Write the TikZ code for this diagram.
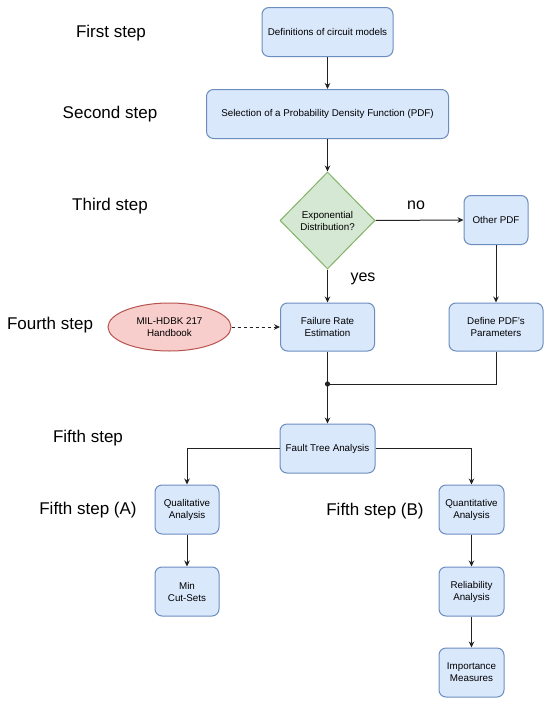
\documentclass[tikz,border=0pt]{standalone}
\usepackage{fontspec}
\setmainfont{Liberation Sans}
\usetikzlibrary{shapes.geometric,arrows.meta}
\definecolor{boxfill}{HTML}{DAE8FC}
\definecolor{boxline}{HTML}{6C8EBF}
\definecolor{grfill}{HTML}{D5E8D4}
\definecolor{grline}{HTML}{82B366}
\definecolor{rdfill}{HTML}{F8CECC}
\definecolor{rdline}{HTML}{B85450}
\definecolor{linec}{HTML}{222222}
\tikzset{
  box/.style={draw=boxline, fill=boxfill, rounded corners=7pt, line width=1pt,
    font=\fontsize{9.8}{12}\selectfont, align=center, inner sep=0pt},
  dec/.style={diamond, draw=grline, fill=grfill, line width=1pt,
    font=\fontsize{9.8}{12}\selectfont, align=center, inner sep=0pt},
  ell/.style={ellipse, draw=rdline, fill=rdfill, line width=1pt,
    font=\fontsize{9.8}{12}\selectfont, align=center, inner sep=0pt},
  lbl/.style={font=\fontsize{17}{20}\selectfont, inner sep=0pt},
  arr/.style={-{Stealth[length=6pt,width=5.5pt]}, line width=1pt, draw=linec},
  conn/.style={line width=1pt, draw=linec},
}
\begin{document}
\begin{tikzpicture}[x=1pt,y=-1pt]
\useasboundingbox (0,0) rectangle (550,704);
\fill[white] (0,0) rectangle (550,704);
% boxes
\node[box, minimum width=131pt, minimum height=49pt] (def) at (327.5,32) {Definitions of circuit models};
\node[box, minimum width=242pt, minimum height=49pt] (sel) at (327.5,114) {Selection of a Probability Density Function (PDF)};
\node[dec, minimum width=95pt, minimum height=97pt] (dia) at (327.5,220.5) {Exponential\\Distribution?};
\node[box, minimum width=64pt, minimum height=49pt] (other) at (496,220) {Other PDF};
\node[box, minimum width=94pt, minimum height=48pt] (fre) at (327.5,327) {Failure Rate\\Estimation};
\node[box, minimum width=94pt, minimum height=48pt] (dpp) at (496,327) {Define PDF's\\Parameters};
\node[ell, minimum width=123pt, minimum height=48pt] (mil) at (169.5,327) {MIL-HDBK 217\\Handbook};
\node[box, minimum width=95pt, minimum height=49pt] (fta) at (327.5,448.5) {Fault Tree Analysis};
\node[box, minimum width=64pt, minimum height=49pt] (qual) at (187,509.5) {Qualitative\\Analysis};
\node[box, minimum width=64pt, minimum height=49pt] (mcs) at (187,591.5) {Min\\Cut-Sets};
\node[box, minimum width=65pt, minimum height=49pt] (quant) at (471.5,509.5) {Quantitative\\Analysis};
\node[box, minimum width=65pt, minimum height=49pt] (rel) at (471.5,591.5) {Reliability\\Analysis};
\node[box, minimum width=65pt, minimum height=49pt] (imp) at (471.5,672.5) {Importance\\Measures};
% step labels
\node[lbl] (s1) at (111,33) {First step};
\node[lbl] (s2) at (110,114) {Second step};
\node[lbl] (s3) at (110,206) {Third step};
\node[lbl] (s4) at (50,325) {Fourth step};
\node[lbl] (s5) at (88,438) {Fifth step};
\node[lbl] (s5a) at (88,510) {Fifth step (A)};
\node[lbl] (s5b) at (375,511) {Fifth step (B)};
\node[lbl, font=\fontsize{16}{19}\selectfont] (no) at (416,205) {no};
\node[lbl, font=\fontsize{16}{19}\selectfont] (yes) at (363,279) {yes};
% connectors
\coordinate (j) at (327.5,384);
\draw[arr] (def) -- (sel);
\draw[arr] (sel) -- (dia);
\draw[arr] (dia.east) -- (other.west);
\draw[arr] (dia.south) -- (fre.north);
\draw[arr] (other) -- (dpp);
\draw[arr, dash pattern=on 3pt off 3pt] (mil) -- (fre);
\draw[conn] (dpp.south) |- (j);
\draw[arr] (fre.south) -- (fta.north);
\fill[linec] (j) circle (2.6pt);
\draw[arr] (fta.west) -| (qual.north);
\draw[arr] (fta.east) -| (quant.north);
\draw[arr] (qual) -- (mcs);
\draw[arr] (quant) -- (rel);
\draw[arr] (rel) -- (imp);
\end{tikzpicture}
\end{document}
